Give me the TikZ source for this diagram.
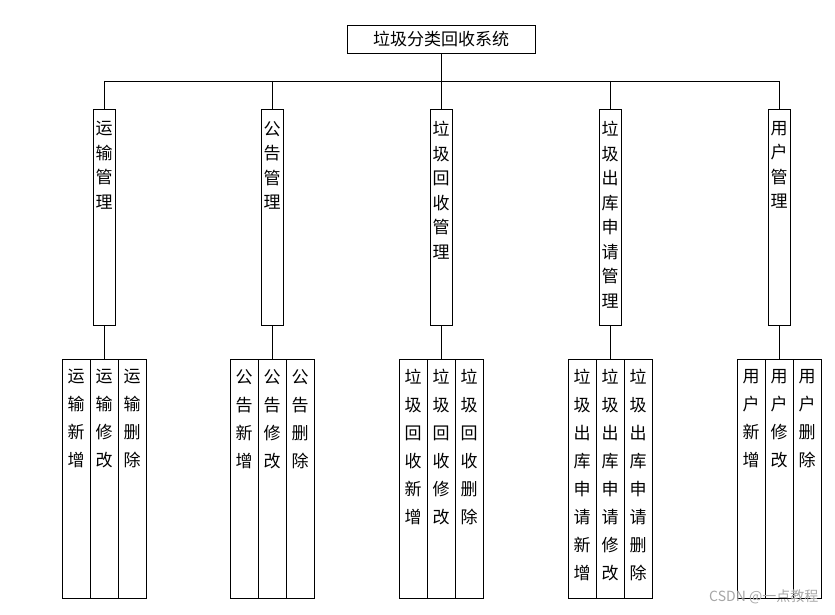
\documentclass[tikz,border=0pt]{standalone}
\usepackage{fontspec}
\setmainfont{Noto Sans CJK SC}
\begin{document}
\begin{tikzpicture}[x=1pt,y=-1pt,line width=0.8pt,
  mid/.style={draw,minimum width=22pt,minimum height=216pt,anchor=north,inner sep=0pt},
  leaf/.style={draw,minimum width=28pt,minimum height=239pt,anchor=north,inner sep=0pt},
  vt/.style={anchor=north,align=center,inner sep=0pt,font=\fontsize{17}{24.5}\selectfont},
  lt/.style={anchor=north,align=center,inner sep=0pt,font=\fontsize{17}{28}\selectfont}]
\path[use as bounding box] (0,0) rectangle (835,615);
\node[draw,minimum width=188pt,minimum height=28pt,inner sep=0pt,font=\fontsize{17}{20}\selectfont] (root) at (441,39) {垃圾分类回收系统};
\coordinate (busL) at (104,81);
\coordinate (busR) at (779,81);
\draw (root.south) -- (441,81);
\draw (busL) -- (busR);
\foreach \n/\x/\t/\la/\lb/\lc in {
 a/104/{运\\输\\管\\理}/{运\\输\\新\\增}/{运\\输\\修\\改}/{运\\输\\删\\除},
 b/272/{公\\告\\管\\理}/{公\\告\\新\\增}/{公\\告\\修\\改}/{公\\告\\删\\除},
 c/441/{垃\\圾\\回\\收\\管\\理}/{垃\\圾\\回\\收\\新\\增}/{垃\\圾\\回\\收\\修\\改}/{垃\\圾\\回\\收\\删\\除},
 d/610/{垃\\圾\\出\\库\\申\\请\\管\\理}/{垃\\圾\\出\\库\\申\\请\\新\\增}/{垃\\圾\\出\\库\\申\\请\\修\\改}/{垃\\圾\\出\\库\\申\\请\\删\\除},
 e/779/{用\\户\\管\\理}/{用\\户\\新\\增}/{用\\户\\修\\改}/{用\\户\\删\\除}}{
  \node[mid] (\n) at (\x,109) {};
  \node[vt] at (\x,121) {\t};
  \node[leaf] (\n1) at (\x-28,359) {};
  \node[leaf] (\n2) at (\x,359) {};
  \node[leaf] (\n3) at (\x+28,359) {};
  \node[lt] at (\x-28,369) {\la};
  \node[lt] at (\x,369) {\lb};
  \node[lt] at (\x+28,369) {\lc};
  \draw (\x,81) -- (\n.north);
  \draw (\n.south) -- (\n2.north);
}
\node[font=\fontsize{14}{16}\selectfont,text=gray!70,anchor=south east] (wm) at (822,608) {CSDN @一点教程};
\end{tikzpicture}
\end{document}
